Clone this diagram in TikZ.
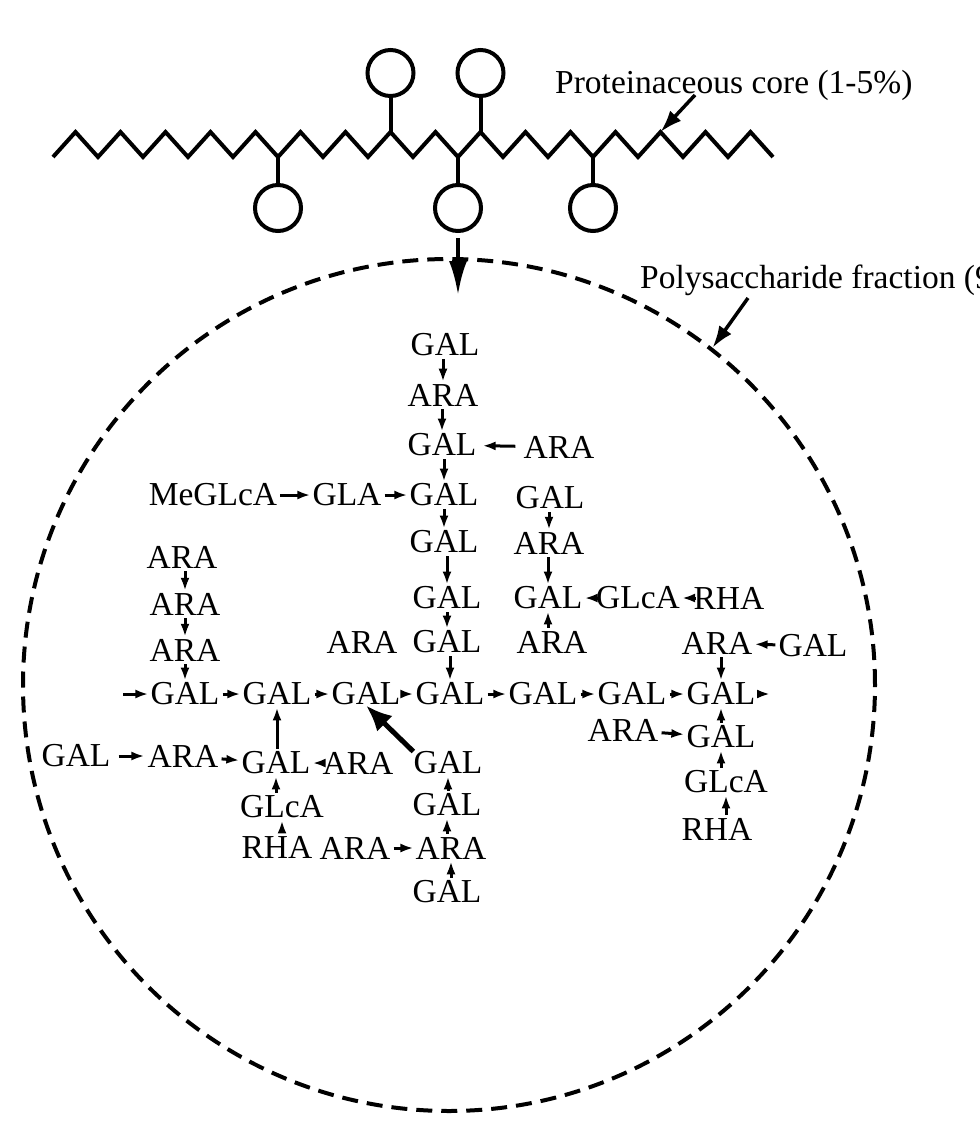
\documentclass[tikz,border=0pt]{standalone}
\usepackage{fontspec}
\setmainfont{Liberation Serif}
\usetikzlibrary{arrows.meta,positioning,calc}
\begin{document}
\begin{tikzpicture}[x=1pt,y=-1pt,font=\fontsize{33.5}{40}\selectfont,>={Latex[length=13pt,width=9pt]},
 sugar/.style={inner sep=0pt},
 link/.style={->,line width=3pt,shorten <=3pt,shorten >=2pt},
 chain/.style={line width=4pt,line join=miter},
 ring/.style={draw,circle,line width=4pt,minimum size=46pt,inner sep=0pt},
 pointer/.style={-{Latex[length=22pt,width=15pt]},line width=3.5pt}]
\useasboundingbox (0,0) rectangle (980,1125);
% protein backbone
\foreach \i in {0,...,32} \coordinate (v\i) at ({53+22.5*\i},{144.5+12.5*cos(180*\i)});
\draw[chain] (v0) \foreach \i in {1,...,32}{--(v\i)};
\foreach \i in {10,18,24} {\node[ring,below=26pt of v\i](r\i){};\draw[chain](v\i)--(r\i);}
\foreach \i in {15,19} {\node[ring,above=34pt of v\i](r\i){};\draw[chain](v\i)--(r\i);}
\draw[-{Latex[length=34pt,width=18pt]},line width=4pt](r18.south)++(0,5)--++(0,57);
% polysaccharide
\node[circle,draw,line width=4pt,dash pattern=on 16pt off 9pt,minimum size=852pt,inner sep=0pt](frac) at (449,685){};
\node[anchor=base west,inner sep=0pt](core) at (555,93){Proteinaceous core (1-5\%)};
\node[anchor=base west,inner sep=0pt](polylbl) at (640,288){Polysaccharide fraction (9};
\draw[pointer](core.base west)++(140,2)--(v27);
\draw[pointer](polylbl.base west)++(108,10)--(frac.52);
\foreach \n/\t/\x/\y in {c1/GAL/445/345,c2/ARA/443/395,c3/GAL/442/445,c4/GAL/444/495,c5/GAL/444/542,
 c6/GAL/447/598,c7/GAL/447/642,b1/GAL/185/694,b2/GAL/277/694,b3/GAL/366/694,b4/GAL/450/694,
 b5/GAL/543/694,b6/GAL/632/694,b7/GAL/721/694,meglca/MeGLcA/213/495,gla/GLA/347/495,ara3/ARA/559/447,
 r1/GAL/550/498,r2/ARA/549/543,r3/GAL/548/598,r4/ARA/552/642,glca/GLcA/638/598,rha/RHA/729/598,
 l1/ARA/182/557,l2/ARA/185/604,l3/ARA/185/650,aralone/ARA/362/642,fr/ARA/717/643,frgal/GAL/813/646,
 d1/GAL/721/737,dara/ARA/623/730,d2/GLcA/726/782,d3/RHA/717/829,ll0/GAL/76/756,ll1/ARA/183/756,
 ll2/GAL/276/763,ll3/ARA/358/763,ll4/GLcA/282/807,ll5/RHA/277/847,m0/ARA/355/848,m1/GAL/448/763,
 m2/GAL/447/805,m3/ARA/451/848,m4/GAL/447/892}
 \node[sugar](\n) at (\x,\y){\t};
\coordinate (b0) at (120,694);
\coordinate (b8) at (772,694);
\foreach \a/\b in {b0/b1,b1/b2,b2/b3,b3/b4,b4/b5,b5/b6,b6/b7,b7/b8,meglca/gla,gla/c4,glca/r3,
 rha/glca,frgal/fr,dara/d1,ll1/ll2,ll3/ll2,m0/m3}
 \draw[link](\a)--(\b);
\draw[link,shorten <=8pt,shorten >=6pt](ara3)--(c3);
\draw[link,shorten <=8pt,shorten >=3pt](ll0)--(ll1);
\foreach \a/\b in {c1/c2,c2/c3,c3/c4,c4/c5,c5/c6,c6/c7,c7/b4,r1/r2,r2/r3,l1/l2,l2/l3,l3/b1,fr/b7}
 \draw[link](\b|-\a.south)--(\b.north);
\foreach \a/\b in {r4/r3,d3/d2,d2/d1,d1/b7,ll5/ll4,ll4/ll2,ll2/b2,m4/m3,m3/m2,m2/m1}
 \draw[link](\b|-\a.north)--(\b.south);
\draw[-{Latex[length=26pt,width=22pt]},line width=5pt](m1.north west)--(b3.south);
\end{tikzpicture}
\end{document}
